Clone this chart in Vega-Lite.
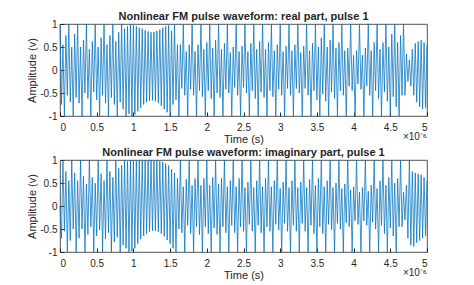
{
"$schema":"https://vega.github.io/schema/vega-lite/v6.json",
"padding":{"left":26,"top":10,"right":5,"bottom":5},
"bounds":"flush",
"spacing":44,
"config":{
"font":"Liberation Sans",
"view":{"stroke":"#262626","strokeWidth":0.8},
"axis":{"labelFont":"Liberation Sans","labelFontSize":10,"labelColor":"#262626","labelOverlap":false,"titleFont":"Liberation Sans","titleFontSize":11,"titleFontWeight":"normal","titleColor":"#262626","domain":false,"grid":false,"tickColor":"#262626","tickSize":-4},
"axisX":{"labelPadding":10,"titlePadding":1},
"axisY":{"labelPadding":7,"titlePadding":2},
"title":{"font":"Liberation Sans","fontSize":11,"fontWeight":"bold","color":"#262626","offset":-3,"frame":"group"}
},
"datasets":{
"note":[{"label":"×10⁻⁶"}],
"re":[
{"t":0,"y":1},{"t":0.02,"y":-0.75},{"t":0.04,"y":0.55},{"t":0.06,"y":-1},{"t":0.08,"y":0.75},{"t":0.1,"y":-0.55},{"t":0.12,"y":1},{"t":0.14,"y":-0.7},{"t":0.16,"y":0.5},{"t":0.18,"y":-1},
{"t":0.2,"y":0.78},{"t":0.22,"y":-0.6},{"t":0.24,"y":1},{"t":0.26,"y":-0.72},{"t":0.28,"y":0.5},{"t":0.3,"y":-1},{"t":0.32,"y":0.65},{"t":0.34,"y":-0.5},{"t":0.36,"y":1},{"t":0.38,"y":-0.62},
{"t":0.4,"y":0.45},{"t":0.42,"y":-1},{"t":0.44,"y":0.62},{"t":0.46,"y":-0.48},{"t":0.48,"y":1},{"t":0.5,"y":-0.65},{"t":0.52,"y":0.5},{"t":0.54,"y":-1},{"t":0.56,"y":0.7},{"t":0.58,"y":-0.55},
{"t":0.6,"y":1},{"t":0.62,"y":-0.72},{"t":0.64,"y":0.55},{"t":0.66,"y":-1},{"t":0.68,"y":0.75},{"t":0.7,"y":-0.6},{"t":0.72,"y":1},{"t":0.74,"y":-0.75},{"t":0.76,"y":0.62},{"t":0.78,"y":-1},
{"t":0.8,"y":0.82},{"t":0.82,"y":-0.7},{"t":0.84,"y":1},{"t":0.86,"y":-0.85},{"t":0.88,"y":0.9},{"t":0.9,"y":-1},{"t":0.92,"y":0.95},{"t":0.94,"y":-0.95},{"t":0.96,"y":1},{"t":0.98,"y":-1},
{"t":1,"y":0.97},{"t":1.02,"y":-0.97},{"t":1.04,"y":0.95},{"t":1.06,"y":-0.9},{"t":1.08,"y":0.92},{"t":1.1,"y":-0.82},{"t":1.12,"y":0.9},{"t":1.14,"y":-0.75},{"t":1.16,"y":0.86},{"t":1.18,"y":-0.7},
{"t":1.2,"y":0.84},{"t":1.22,"y":-0.67},{"t":1.24,"y":0.82},{"t":1.26,"y":-0.66},{"t":1.28,"y":0.83},{"t":1.3,"y":-0.68},{"t":1.32,"y":0.85},{"t":1.34,"y":-0.72},{"t":1.36,"y":0.88},{"t":1.38,"y":-0.78},
{"t":1.4,"y":0.92},{"t":1.42,"y":-0.85},{"t":1.44,"y":0.95},{"t":1.46,"y":-0.92},{"t":1.48,"y":0.97},{"t":1.5,"y":-1},{"t":1.52,"y":0.85},{"t":1.54,"y":-0.75},{"t":1.56,"y":1},{"t":1.58,"y":-0.65},
{"t":1.6,"y":0.55},{"t":1.62,"y":-1},{"t":1.64,"y":0.55},{"t":1.66,"y":-0.4},{"t":1.68,"y":1},{"t":1.7,"y":-0.55},{"t":1.72,"y":0.4},{"t":1.74,"y":-1},{"t":1.76,"y":0.55},{"t":1.78,"y":-0.42},
{"t":1.8,"y":1},{"t":1.82,"y":-0.55},{"t":1.84,"y":0.4},{"t":1.86,"y":-1},{"t":1.88,"y":0.55},{"t":1.9,"y":-0.45},{"t":1.92,"y":1},{"t":1.94,"y":-0.58},{"t":1.96,"y":0.45},{"t":1.98,"y":-1},
{"t":2,"y":0.6},{"t":2.02,"y":-0.45},{"t":2.04,"y":1},{"t":2.06,"y":-0.62},{"t":2.08,"y":0.48},{"t":2.1,"y":-1},{"t":2.12,"y":0.65},{"t":2.14,"y":-0.5},{"t":2.16,"y":1},{"t":2.18,"y":-0.6},
{"t":2.2,"y":0.45},{"t":2.22,"y":-1},{"t":2.24,"y":0.58},{"t":2.26,"y":-0.42},{"t":2.28,"y":1},{"t":2.3,"y":-0.5},{"t":2.32,"y":0.38},{"t":2.34,"y":-1},{"t":2.36,"y":0.5},{"t":2.38,"y":-0.38},
{"t":2.4,"y":1},{"t":2.42,"y":-0.55},{"t":2.44,"y":0.4},{"t":2.46,"y":-1},{"t":2.48,"y":0.52},{"t":2.5,"y":-0.38},{"t":2.52,"y":1},{"t":2.54,"y":-0.5},{"t":2.56,"y":0.4},{"t":2.58,"y":-1},
{"t":2.6,"y":0.58},{"t":2.62,"y":-0.45},{"t":2.64,"y":1},{"t":2.66,"y":-0.62},{"t":2.68,"y":0.45},{"t":2.7,"y":-1},{"t":2.72,"y":0.62},{"t":2.74,"y":-0.48},{"t":2.76,"y":1},{"t":2.78,"y":-0.6},
{"t":2.8,"y":0.45},{"t":2.82,"y":-1},{"t":2.84,"y":0.6},{"t":2.86,"y":-0.45},{"t":2.88,"y":1},{"t":2.9,"y":-0.58},{"t":2.92,"y":0.42},{"t":2.94,"y":-1},{"t":2.96,"y":0.55},{"t":2.98,"y":-0.42},
{"t":3,"y":1},{"t":3.02,"y":-0.55},{"t":3.04,"y":0.4},{"t":3.06,"y":-1},{"t":3.08,"y":0.52},{"t":3.1,"y":-0.4},{"t":3.12,"y":1},{"t":3.14,"y":-0.55},{"t":3.16,"y":0.42},{"t":3.18,"y":-1},
{"t":3.2,"y":0.55},{"t":3.22,"y":-0.4},{"t":3.24,"y":1},{"t":3.26,"y":-0.5},{"t":3.28,"y":0.38},{"t":3.3,"y":-1},{"t":3.32,"y":0.52},{"t":3.34,"y":-0.4},{"t":3.36,"y":1},{"t":3.38,"y":-0.55},
{"t":3.4,"y":0.42},{"t":3.42,"y":-1},{"t":3.44,"y":0.58},{"t":3.46,"y":-0.45},{"t":3.48,"y":1},{"t":3.5,"y":-0.65},{"t":3.52,"y":0.5},{"t":3.54,"y":-1},{"t":3.56,"y":0.7},{"t":3.58,"y":-0.52},
{"t":3.6,"y":1},{"t":3.62,"y":-0.68},{"t":3.64,"y":0.5},{"t":3.66,"y":-1},{"t":3.68,"y":0.65},{"t":3.7,"y":-0.48},{"t":3.72,"y":1},{"t":3.74,"y":-0.62},{"t":3.76,"y":0.48},{"t":3.78,"y":-1},
{"t":3.8,"y":0.6},{"t":3.82,"y":-0.45},{"t":3.84,"y":1},{"t":3.86,"y":-0.55},{"t":3.88,"y":0.42},{"t":3.9,"y":-1},{"t":3.92,"y":0.48},{"t":3.94,"y":-0.35},{"t":3.96,"y":1},{"t":3.98,"y":-0.45},
{"t":4,"y":0.32},{"t":4.02,"y":-1},{"t":4.04,"y":0.42},{"t":4.06,"y":-0.3},{"t":4.08,"y":1},{"t":4.1,"y":-0.42},{"t":4.12,"y":0.32},{"t":4.14,"y":-1},{"t":4.16,"y":0.48},{"t":4.18,"y":-0.35},
{"t":4.2,"y":1},{"t":4.22,"y":-0.55},{"t":4.24,"y":0.42},{"t":4.26,"y":-1},{"t":4.28,"y":0.6},{"t":4.3,"y":-0.45},{"t":4.32,"y":1},{"t":4.34,"y":-0.62},{"t":4.36,"y":0.45},{"t":4.38,"y":-1},
{"t":4.4,"y":0.6},{"t":4.42,"y":-0.48},{"t":4.44,"y":1},{"t":4.46,"y":-0.68},{"t":4.48,"y":0.5},{"t":4.5,"y":-1},{"t":4.52,"y":0.78},{"t":4.54,"y":-0.58},{"t":4.56,"y":1},{"t":4.58,"y":-0.8},
{"t":4.6,"y":0.6},{"t":4.62,"y":-1},{"t":4.64,"y":0.75},{"t":4.66,"y":-0.55},{"t":4.68,"y":1},{"t":4.7,"y":-0.55},{"t":4.72,"y":0.35},{"t":4.74,"y":-0.25},{"t":4.76,"y":0.22},{"t":4.78,"y":-0.35},
{"t":4.8,"y":0.45},{"t":4.82,"y":-0.55},{"t":4.84,"y":0.58},{"t":4.86,"y":-0.7},{"t":4.88,"y":0.62},{"t":4.9,"y":-0.8},{"t":4.92,"y":0.65},{"t":4.94,"y":-0.85},{"t":4.96,"y":0.6},{"t":4.98,"y":-0.82},
{"t":5,"y":0.55}
],
"im":[
{"t":0,"y":0},{"t":0.02,"y":-0.7},{"t":0.04,"y":1},{"t":0.06,"y":-0.55},{"t":0.08,"y":0.75},{"t":0.1,"y":-1},{"t":0.12,"y":0.55},{"t":0.14,"y":-0.75},{"t":0.16,"y":1},{"t":0.18,"y":-0.5},
{"t":0.2,"y":0.72},{"t":0.22,"y":-1},{"t":0.24,"y":0.55},{"t":0.26,"y":-0.7},{"t":0.28,"y":1},{"t":0.3,"y":-0.5},{"t":0.32,"y":0.65},{"t":0.34,"y":-1},{"t":0.36,"y":0.48},{"t":0.38,"y":-0.62},
{"t":0.4,"y":1},{"t":0.42,"y":-0.45},{"t":0.44,"y":0.62},{"t":0.46,"y":-1},{"t":0.48,"y":0.5},{"t":0.5,"y":-0.65},{"t":0.52,"y":1},{"t":0.54,"y":-0.52},{"t":0.56,"y":0.7},{"t":0.58,"y":-1},
{"t":0.6,"y":0.55},{"t":0.62,"y":-0.72},{"t":0.64,"y":1},{"t":0.66,"y":-0.58},{"t":0.68,"y":0.75},{"t":0.7,"y":-1},{"t":0.72,"y":0.62},{"t":0.74,"y":-0.78},{"t":0.76,"y":1},{"t":0.78,"y":-0.68},
{"t":0.8,"y":0.82},{"t":0.82,"y":-1},{"t":0.84,"y":0.88},{"t":0.86,"y":-0.85},{"t":0.88,"y":1},{"t":0.9,"y":-0.92},{"t":0.92,"y":0.97},{"t":0.94,"y":-1},{"t":0.96,"y":1},{"t":0.98,"y":-0.98},
{"t":1,"y":1},{"t":1.02,"y":-0.92},{"t":1.04,"y":0.99},{"t":1.06,"y":-0.82},{"t":1.08,"y":1},{"t":1.1,"y":-0.72},{"t":1.12,"y":0.99},{"t":1.14,"y":-0.65},{"t":1.16,"y":1},{"t":1.18,"y":-0.6},
{"t":1.2,"y":0.99},{"t":1.22,"y":-0.56},{"t":1.24,"y":1},{"t":1.26,"y":-0.54},{"t":1.28,"y":0.99},{"t":1.3,"y":-0.54},{"t":1.32,"y":1},{"t":1.34,"y":-0.56},{"t":1.36,"y":0.98},{"t":1.38,"y":-0.6},
{"t":1.4,"y":0.96},{"t":1.42,"y":-0.66},{"t":1.44,"y":0.92},{"t":1.46,"y":-0.74},{"t":1.48,"y":0.88},{"t":1.5,"y":-0.82},{"t":1.52,"y":0.8},{"t":1.54,"y":-0.92},{"t":1.56,"y":0.72},{"t":1.58,"y":-1},
{"t":1.6,"y":0.6},{"t":1.62,"y":-0.5},{"t":1.64,"y":1},{"t":1.66,"y":-0.58},{"t":1.68,"y":0.42},{"t":1.7,"y":-1},{"t":1.72,"y":0.58},{"t":1.74,"y":-0.42},{"t":1.76,"y":1},{"t":1.78,"y":-0.6},
{"t":1.8,"y":0.45},{"t":1.82,"y":-1},{"t":1.84,"y":0.6},{"t":1.86,"y":-0.45},{"t":1.88,"y":1},{"t":1.9,"y":-0.62},{"t":1.92,"y":0.45},{"t":1.94,"y":-1},{"t":1.96,"y":0.6},{"t":1.98,"y":-0.45},
{"t":2,"y":1},{"t":2.02,"y":-0.6},{"t":2.04,"y":0.45},{"t":2.06,"y":-1},{"t":2.08,"y":0.62},{"t":2.1,"y":-0.48},{"t":2.12,"y":1},{"t":2.14,"y":-0.62},{"t":2.16,"y":0.48},{"t":2.18,"y":-1},
{"t":2.2,"y":0.6},{"t":2.22,"y":-0.45},{"t":2.24,"y":1},{"t":2.26,"y":-0.58},{"t":2.28,"y":0.42},{"t":2.3,"y":-1},{"t":2.32,"y":0.55},{"t":2.34,"y":-0.42},{"t":2.36,"y":1},{"t":2.38,"y":-0.58},
{"t":2.4,"y":0.42},{"t":2.42,"y":-1},{"t":2.44,"y":0.6},{"t":2.46,"y":-0.45},{"t":2.48,"y":1},{"t":2.5,"y":-0.55},{"t":2.52,"y":0.4},{"t":2.54,"y":-1},{"t":2.56,"y":0.52},{"t":2.58,"y":-0.4},
{"t":2.6,"y":1},{"t":2.62,"y":-0.55},{"t":2.64,"y":0.4},{"t":2.66,"y":-1},{"t":2.68,"y":0.55},{"t":2.7,"y":-0.42},{"t":2.72,"y":1},{"t":2.74,"y":-0.58},{"t":2.76,"y":0.42},{"t":2.78,"y":-1},
{"t":2.8,"y":0.6},{"t":2.82,"y":-0.45},{"t":2.84,"y":1},{"t":2.86,"y":-0.55},{"t":2.88,"y":0.42},{"t":2.9,"y":-1},{"t":2.92,"y":0.55},{"t":2.94,"y":-0.4},{"t":2.96,"y":1},{"t":2.98,"y":-0.52},
{"t":3,"y":0.38},{"t":3.02,"y":-1},{"t":3.04,"y":0.52},{"t":3.06,"y":-0.38},{"t":3.08,"y":1},{"t":3.1,"y":-0.55},{"t":3.12,"y":0.4},{"t":3.14,"y":-1},{"t":3.16,"y":0.55},{"t":3.18,"y":-0.42},
{"t":3.2,"y":1},{"t":3.22,"y":-0.55},{"t":3.24,"y":0.4},{"t":3.26,"y":-1},{"t":3.28,"y":0.52},{"t":3.3,"y":-0.38},{"t":3.32,"y":1},{"t":3.34,"y":-0.55},{"t":3.36,"y":0.4},{"t":3.38,"y":-1},
{"t":3.4,"y":0.58},{"t":3.42,"y":-0.42},{"t":3.44,"y":1},{"t":3.46,"y":-0.6},{"t":3.48,"y":0.45},{"t":3.5,"y":-1},{"t":3.52,"y":0.6},{"t":3.54,"y":-0.45},{"t":3.56,"y":1},{"t":3.58,"y":-0.6},
{"t":3.6,"y":0.42},{"t":3.62,"y":-1},{"t":3.64,"y":0.55},{"t":3.66,"y":-0.4},{"t":3.68,"y":1},{"t":3.7,"y":-0.52},{"t":3.72,"y":0.4},{"t":3.74,"y":-1},{"t":3.76,"y":0.5},{"t":3.78,"y":-0.38},
{"t":3.8,"y":1},{"t":3.82,"y":-0.5},{"t":3.84,"y":0.38},{"t":3.86,"y":-1},{"t":3.88,"y":0.48},{"t":3.9,"y":-0.36},{"t":3.92,"y":1},{"t":3.94,"y":-0.45},{"t":3.96,"y":0.35},{"t":3.98,"y":-1},
{"t":4,"y":0.42},{"t":4.02,"y":-0.32},{"t":4.04,"y":1},{"t":4.06,"y":-0.4},{"t":4.08,"y":0.3},{"t":4.1,"y":-1},{"t":4.12,"y":0.4},{"t":4.14,"y":-0.32},{"t":4.16,"y":1},{"t":4.18,"y":-0.42},
{"t":4.2,"y":0.32},{"t":4.22,"y":-1},{"t":4.24,"y":0.45},{"t":4.26,"y":-0.35},{"t":4.28,"y":1},{"t":4.3,"y":-0.5},{"t":4.32,"y":0.38},{"t":4.34,"y":-1},{"t":4.36,"y":0.55},{"t":4.38,"y":-0.42},
{"t":4.4,"y":1},{"t":4.42,"y":-0.6},{"t":4.44,"y":0.45},{"t":4.46,"y":-1},{"t":4.48,"y":0.62},{"t":4.5,"y":-0.48},{"t":4.52,"y":1},{"t":4.54,"y":-0.65},{"t":4.56,"y":0.5},{"t":4.58,"y":-1},
{"t":4.6,"y":0.6},{"t":4.62,"y":-0.45},{"t":4.64,"y":1},{"t":4.66,"y":-0.45},{"t":4.68,"y":0.3},{"t":4.7,"y":-0.3},{"t":4.72,"y":0.45},{"t":4.74,"y":-0.7},{"t":4.76,"y":1},{"t":4.78,"y":-0.85},
{"t":4.8,"y":0.75},{"t":4.82,"y":-0.88},{"t":4.84,"y":0.72},{"t":4.86,"y":-0.8},{"t":4.88,"y":0.7},{"t":4.9,"y":-0.75},{"t":4.92,"y":0.68},{"t":4.94,"y":-0.7},{"t":4.96,"y":0.62},{"t":4.98,"y":-0.65},
{"t":5,"y":0.55}
]
},
"vconcat":[
{
"width":367,"height":92,
"title":"Nonlinear FM pulse waveform: real part, pulse 1",
"layer":[
{"data":{"name":"re"},"mark":{"type":"line","color":"#0072BD","strokeWidth":0.75},
"encoding":{
"x":{"field":"t","type":"quantitative","scale":{"domain":[0,5],"nice":false},"axis":{"values":[0,0.5,1,1.5,2,2.5,3,3.5,4,4.5,5],"tickCount":20,"format":"~g","labelOverlap":false,"labelBound":false,"title":"Time (s)"}},
"y":{"field":"y","type":"quantitative","scale":{"domain":[-1,1],"nice":false},"axis":{"values":[-1,-0.5,0,0.5,1],"tickCount":20,"format":"~g","labelOverlap":false,"labelBound":false,"labelExpr":"replace(datum.label, '\u2212', '-')","title":"Amplitude (v)"}}
}},
{"data":{"name":"note"},"mark":{"type":"text","align":"right","baseline":"middle","dy":21,"fontSize":10,"color":"#262626"},
"encoding":{"x":{"datum":5},"y":{"datum":-1},"text":{"field":"label"}}}
]
},
{
"width":367,"height":92,
"title":"Nonlinear FM pulse waveform: imaginary part, pulse 1",
"layer":[
{"data":{"name":"im"},"mark":{"type":"line","color":"#0072BD","strokeWidth":0.75},
"encoding":{
"x":{"field":"t","type":"quantitative","scale":{"domain":[0,5],"nice":false},"axis":{"values":[0,0.5,1,1.5,2,2.5,3,3.5,4,4.5,5],"tickCount":20,"format":"~g","labelOverlap":false,"labelBound":false,"title":"Time (s)"}},
"y":{"field":"y","type":"quantitative","scale":{"domain":[-1,1],"nice":false},"axis":{"values":[-1,-0.5,0,0.5,1],"tickCount":20,"format":"~g","labelOverlap":false,"labelBound":false,"labelExpr":"replace(datum.label, '\u2212', '-')","title":"Amplitude (v)"}}
}},
{"data":{"name":"note"},"mark":{"type":"text","align":"right","baseline":"middle","dy":21,"fontSize":10,"color":"#262626"},
"encoding":{"x":{"datum":5},"y":{"datum":-1},"text":{"field":"label"}}}
]
}
]
}
